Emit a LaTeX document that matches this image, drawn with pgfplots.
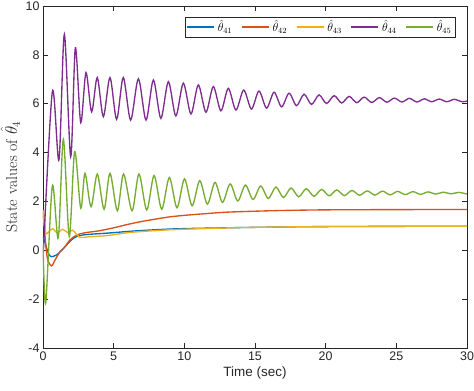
\documentclass[border=0pt]{standalone}
\usepackage{fontspec}
\setsansfont{Liberation Sans}
\usepackage{pgfplots}
\pgfplotsset{compat=1.18}
\definecolor{c1}{rgb}{0,0.447,0.741}
\definecolor{c2}{rgb}{0.85,0.325,0.098}
\definecolor{c3}{rgb}{0.929,0.694,0.125}
\definecolor{c4}{rgb}{0.494,0.184,0.556}
\definecolor{c5}{rgb}{0.466,0.674,0.188}
\definecolor{axc}{rgb}{0.15,0.15,0.15}
\begin{document}
\begin{tikzpicture}
\begin{axis}[name=ax, at={(0,0)}, anchor=south west, scale only axis,
  width=424bp, height=342bp,
  xmin=0, xmax=30, ymin=-4, ymax=10,
  xtick={0,5,...,30}, ytick={-4,-2,...,10},
  tick align=inside, xtick pos=both, ytick pos=both,
  major tick length=5bp,
  axis line style={draw=axc}, tick style={draw=axc, line width=0.5bp},
  ticklabel style={font=\sffamily\fontsize{12.5}{14}\selectfont, text=axc},
  /pgf/number format/assume math mode=true,
  xlabel={Time (sec)},
  xlabel style={font=\sffamily\fontsize{13.5}{15}\selectfont, text=axc},
  ylabel={State values of $\hat{\theta}_4$},
  ylabel style={font=\fontsize{16}{18}\selectfont, text=axc, yshift=-1bp},
  legend style={at={(1,1)}, xshift=-12bp, yshift=-10.7bp, anchor=north east,
    legend columns=5, draw=axc, line width=0.5bp,
    font=\fontsize{12}{14}\selectfont, inner sep=1.5bp,
    /tikz/every even column/.append style={column sep=7bp},
    /tikz/every odd column/.append style={column sep=1bp}},
  legend image code/.code={\draw[#1] (0bp,0bp) -- (27bp,0bp);},
  every axis plot/.append style={line width=1.35bp},
]
\addplot[c1, smooth] coordinates {
(0,0.56) (0.15,0.3) (0.4,-0.15) (0.6,-0.26) (0.85,-0.22) (1.1,-0.13)
(1.56,0.15) (2.15,0.49) (2.6,0.6) (3.2,0.65) (4.5,0.7) (6,0.77) (7,0.81)
(9,0.87) (11,0.9) (14,0.93) (17,0.955) (20,0.97) (25,0.98) (30,0.985)};
\addlegendentry{$\hat{\theta}_{41}$}
\addplot[c2, smooth] coordinates {
(0,1.65) (0.1,0.9) (0.3,-0.3) (0.6,-0.64) (0.85,-0.4) (1.2,-0.06) (1.5,0.1)
(1.9,0.42) (2.4,0.63) (3.0,0.72) (4.0,0.8) (5,0.92) (6,1.06) (7,1.18)
(8,1.28) (9,1.37) (10,1.43) (11.5,1.5) (13,1.56) (15,1.6) (17,1.63)
(20,1.655) (25,1.665) (30,1.67)};
\addlegendentry{$\hat{\theta}_{42}$}
\addplot[c3, smooth] coordinates {
(0,1.0) (0.05,1.58) (0.2,0.72) (0.45,0.78) (0.7,0.88) (1.0,0.72) (1.4,0.86)
(1.75,0.72) (2.1,0.82) (2.6,0.53) (3.2,0.55) (4.5,0.6) (6,0.72) (7,0.77)
(9,0.84) (11,0.88) (14,0.93) (17,0.955) (20,0.97) (25,0.98) (30,0.985)};
\addlegendentry{$\hat{\theta}_{43}$}
\addplot[c4, smooth] coordinates {
(0,-0.4) (0.66,6.49) (1.13,3.70) (1.51,8.84) (1.96,3.83) (2.29,8.29)
(2.67,5.23) (3.04,7.27) (3.44,5.67) (3.84,7.07) (4.27,5.47) (4.74,7.07)
(5.21,5.36) (5.68,7.07) (6.2,5.33) (6.75,7.02) (7.29,5.33) (7.81,6.97)
(8.34,5.40) (8.87,6.90) (9.40,5.50) (9.93,6.84) (10.47,5.58) (10.99,6.77)
(11.53,5.65) (12.05,6.70) (12.59,5.71) (13.11,6.63) (13.65,5.74) (14.2,6.56)
(14.75,5.78) (15.28,6.52) (15.82,5.82) (16.35,6.47) (16.88,5.87) (17.41,6.43)
(17.94,5.92) (18.47,6.39) (19.0,5.97) (19.53,6.36) (20.06,6.01) (20.6,6.33)
(21.13,6.03) (21.66,6.30) (22.2,6.04) (22.72,6.27) (23.26,6.05) (23.8,6.25)
(24.33,6.06) (24.86,6.23) (25.4,6.07) (25.92,6.22) (26.45,6.07) (26.98,6.20)
(27.5,6.08) (28.04,6.19) (28.57,6.08) (29.1,6.18) (29.65,6.08) (30,6.11)};
\addlegendentry{$\hat{\theta}_{44}$}
\addplot[c5, smooth] coordinates {
(0,0.3) (0.19,-2.16) (0.66,2.63) (1.08,0.5) (1.44,4.54) (1.86,0.56)
(2.24,4.04) (2.67,1.72) (2.97,3.15) (3.40,1.78) (3.84,3.12) (4.32,1.68)
(4.74,3.15) (5.26,1.62) (5.70,3.12) (6.3,1.62) (6.79,3.12) (7.34,1.65)
(7.86,3.06) (8.40,1.68) (8.94,2.98) (9.48,1.74) (10.01,2.92) (10.55,1.82)
(11.09,2.85) (11.63,1.89) (12.17,2.78) (12.70,1.96) (13.24,2.72) (13.78,2.02)
(14.32,2.67) (14.86,2.08) (15.40,2.63) (15.94,2.12) (16.48,2.59) (17.01,2.16)
(17.55,2.55) (18.09,2.19) (18.63,2.52) (19.17,2.21) (19.71,2.49) (20.25,2.23)
(20.78,2.47) (21.32,2.24) (21.86,2.45) (22.40,2.25) (22.94,2.43) (23.48,2.26)
(24.02,2.42) (24.56,2.27) (25.09,2.41) (25.63,2.28) (26.17,2.40) (26.71,2.29)
(27.25,2.39) (27.79,2.30) (28.33,2.38) (28.86,2.31) (29.4,2.37) (29.94,2.31) (30,2.315)};
\addlegendentry{$\hat{\theta}_{45}$}
\end{axis}
\pgfresetboundingbox
\useasboundingbox ([xshift=-43bp,yshift=-43bp]ax.south west) rectangle ([xshift=7bp,yshift=6bp]ax.north east);
\end{tikzpicture}
\end{document}
